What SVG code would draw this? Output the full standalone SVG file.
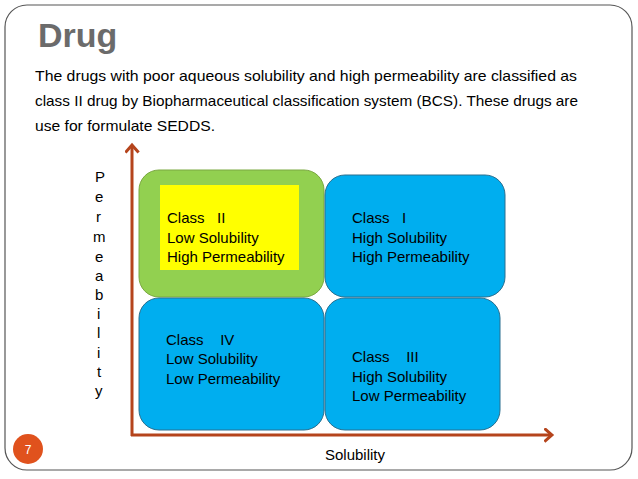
<svg xmlns="http://www.w3.org/2000/svg" width="638" height="479" viewBox="0 0 638 479">
<style>
text{font-family:"Liberation Sans",Arial,sans-serif;fill:#000;white-space:pre}
.b{font-size:15px}
.box{fill:#00AEEF;stroke:#2a6f8f;stroke-width:1}
.ax{stroke:#B5441C;stroke-width:3;fill:none}
</style>
<defs><marker id="ah" markerWidth="5" markerHeight="5" refX="2.5" refY="2.5" orient="auto" markerUnits="strokeWidth"><path d="M0.3,0.3 L2.8,2.5 L0.3,4.7" fill="none" stroke="#B5441C" stroke-width="1"/></marker></defs>
<rect x="0" y="0" width="638" height="479" fill="#fff"/>
<rect x="5" y="5" width="627" height="465" rx="22" fill="#fff" stroke="#555" stroke-width="1.2"/>
<text x="38" y="47" style="font-size:34px;font-weight:bold;fill:#6b6b6b">Drug</text>
<text x="35" y="81" class="b" textLength="542" lengthAdjust="spacingAndGlyphs">The drugs with poor aqueous solubility and high permeability are classified as</text>
<text x="35" y="106" class="b" textLength="543" lengthAdjust="spacingAndGlyphs">class II drug by Biopharmaceutical classification system (BCS). These drugs are</text>
<text x="35" y="131" class="b" textLength="180" lengthAdjust="spacingAndGlyphs">use for formulate SEDDS.</text>
<g id="connectors">
<path class="ax" d="M132,436 V146" marker-end="url(#ah)"/>
<path class="ax" d="M131,435 H551" marker-end="url(#ah)"/>
</g>
<g id="ylabel"><text x="95" y="182" class="b">P</text><text x="95" y="202" class="b">e</text><text x="96" y="222" class="b">r</text><text x="93" y="242" class="b">m</text><text x="95" y="262" class="b">e</text><text x="95" y="281" class="b">a</text><text x="95" y="300" class="b">b</text><text x="97" y="319" class="b">i</text><text x="97" y="338" class="b">l</text><text x="97" y="358" class="b">i</text><text x="97" y="377" class="b">t</text><text x="95" y="396" class="b">y</text></g>
<g id="class2"><rect x="139" y="170" width="185" height="127" rx="20" fill="#92D050" stroke="#7aa840"/><rect x="160" y="185" width="139" height="85" fill="#FFFF00"/>
<text x="167" y="223" class="b">Class   II</text><text x="167" y="243" class="b">Low Solubility</text><text x="167" y="262" class="b">High Permeability</text></g>
<g id="class1"><rect class="box" x="325" y="175" width="180" height="122" rx="20"/>
<text x="352" y="223" class="b">Class   I</text><text x="352" y="243" class="b">High Solubility</text><text x="352" y="262" class="b">High Permeability</text></g>
<g id="class4"><rect class="box" x="139" y="298" width="185" height="132" rx="20"/>
<text x="166" y="345" class="b">Class    IV</text><text x="166" y="364" class="b">Low Solubility</text><text x="166" y="384" class="b">Low Permeability</text></g>
<g id="class3"><rect class="box" x="325" y="298" width="175" height="132" rx="20"/>
<text x="352" y="362" class="b">Class    III</text><text x="352" y="382" class="b">High Solubility</text><text x="352" y="401" class="b">Low Permeability</text></g>
<text x="325" y="460" class="b">Solubility</text>
<circle cx="28" cy="449" r="15" fill="#E0521D"/>
<text x="28" y="454" text-anchor="middle" style="font-size:12px;fill:#fff">7</text>
</svg>
